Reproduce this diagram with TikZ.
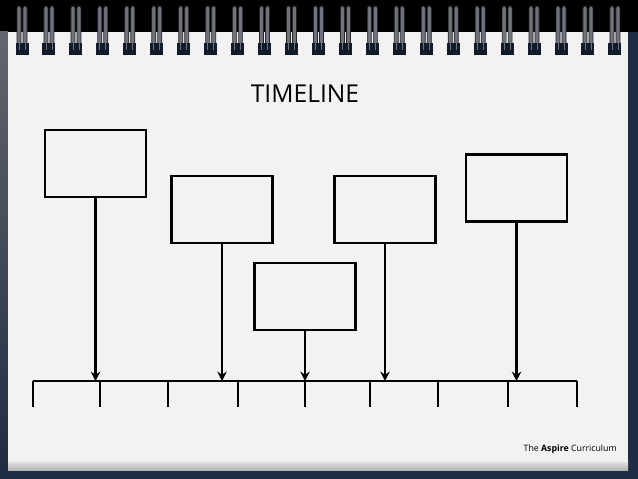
\documentclass[tikz,border=0pt]{standalone}
\usepackage{fontspec}
\setmainfont{Open Sans}
\usetikzlibrary{arrows.meta,positioning,calc}
\definecolor{navy}{HTML}{1E2C44}
\definecolor{paper}{HTML}{F2F2F2}
\definecolor{wire}{HTML}{70737E}

\begin{document}
\begin{tikzpicture}[x=0.03cm, y=-0.03cm,
eventbox/.style={draw=black, line width=2pt, fill=paper, minimum width=3.03cm, minimum height=2.01cm, inner sep=0pt},
axis/.style={line width=2pt},
pointer/.style={line width=1.8pt, -{Stealth[length=8pt,width=8pt]}},
loop/.style={draw=black!85, fill=wire, line width=0.6pt, rounded corners=2pt},
]
\useasboundingbox (0,0) rectangle (638,479);
% background and page
\fill[navy] (0,0) rectangle (638,479);
\fill[black] (0,0) rectangle (638,32);
\shade[top color=gray!70!navy, bottom color=navy] (0,32) rectangle (8,470);
\shade[top color=black!12, bottom color=black!30] (8,462) rectangle (628,470);
\fill[paper] (8,32) rectangle (628,462);

% spiral rings
\foreach \i in {0,...,22}{
  \pgfmathsetmacro{\cx}{22+26.95*\i}
  \draw[loop] (\cx-5,47) rectangle (\cx-1,6);
  \draw[loop] (\cx+1,47) rectangle (\cx+5,6);
  \fill[navy!60!black] (\cx-6.5,43) rectangle (\cx+6.5,55);
  \draw[wire, line width=0.6pt] (\cx-3,43) -- (\cx-3,50) (\cx+3,43) -- (\cx+3,50);
}

\node (title) at (305,94) {\fontsize{21}{24}\selectfont TIMELINE};

\node[eventbox] (box1) at (95.5,163.5) {};
\node[eventbox] (box2) at (222,209.5) {};
\node[eventbox] (box3) at (305,296.5) {};
\node[eventbox] (box4) at (385,209.5) {};
\node[eventbox] (box5) at (516.5,188) {};

\coordinate (tl) at (33,381);
\coordinate (tr) at (577,381);
\draw[axis] (tl) -- (tr);
\foreach \x in {33,100,168,238,305,370,438,508,577}
  \draw[axis] (\x,381) -- (\x,407);

\foreach \b in {box1,box2,box3,box4,box5}
  \draw[pointer] (\b.south) -- (\b.south |- tl);

\node[anchor=east, inner sep=0pt] (credit) at (617,449) {\fontsize{7.5}{9}\selectfont The \textbf{Aspire} Curriculum};
\end{tikzpicture}
\end{document}
